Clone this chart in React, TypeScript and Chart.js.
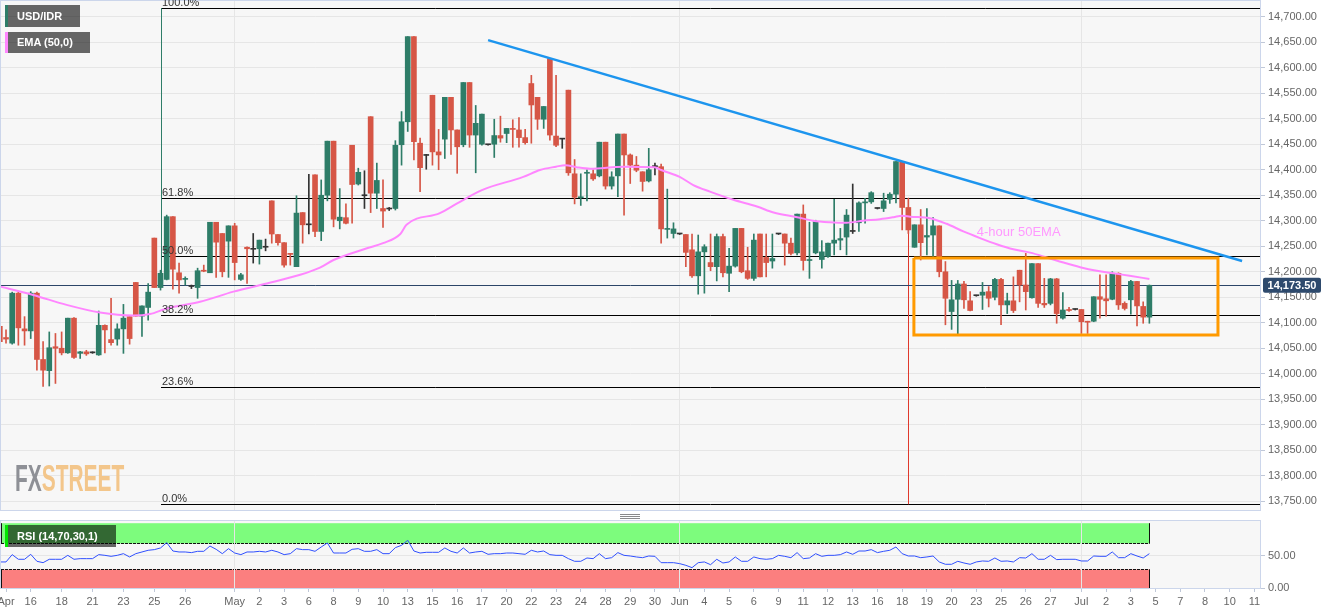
import React, { useEffect, useRef } from 'react';
import { Chart, registerables } from 'chart.js';

Chart.register(...registerables);

const FONT = "'Liberation Sans', Arial, Helvetica, sans-serif";

// candle index of the first entry (the candle cut by the left edge)
const FIRST_INDEX = -1;

const opens = [
  14093,
  14071, 14060, 14158, 14088, 14084, 14158, 14028, 14006, 14053, 14050,
  14041, 14109, 14040, 14043, 14041, 14037, 14095, 14067, 14068, 14088,
  14112, 14179, 14113, 14130, 14266, 14169, 14185, 14308, 14198, 14185,
  14171, 14169, 14203, 14198, 14297, 14275, 14260, 14290, 14185, 14248,
  14244, 14245, 14248, 14339, 14273, 14257, 14236, 14210, 14316, 14292,
  14390, 14279, 14350, 14456, 14300, 14306, 14448, 14372, 14349, 14504,
  14354, 14324, 14323, 14324, 14449, 14494, 14661, 14452, 14428, 14546,
  14435, 14460, 14542, 14478, 14449, 14571, 14468, 14450, 14449, 14450,
  14467, 14471, 14481, 14478, 14463, 14569, 14542, 14499, 14618, 14466,
  14460, 14556, 14392, 14345, 14393, 14392, 14388, 14454, 14368, 14388,
  14470, 14429, 14409, 14396, 14378, 14406, 14406, 14283, 14275, 14274,
  14273, 14243, 14192, 14239, 14218, 14210, 14269, 14197, 14211, 14285,
  14202, 14187, 14274, 14228, 14221, 14274, 14274, 14256, 14237, 14313,
  14222, 14237, 14224, 14230, 14256, 14262, 14268, 14279, 14296, 14335,
  14337, 14324, 14324, 14342, 14352, 14416, 14326, 14248, 14292, 14268,
  14272, 14290, 14200, 14122, 14146, 14176, 14143, 14153, 14154, 14161,
  14150, 14185, 14135, 14143, 14203, 14174, 14149, 14216, 14138, 14138,
  14186, 14109, 14126, 14126, 14126, 14103, 14103, 14151, 14147, 14146,
  14197, 14138, 14145, 14181, 14132, 14111,
];

const highs = [
  14105,
  14086, 14160, 14160, 14112, 14161, 14160, 14063, 14082, 14079, 14082,
  14109, 14110, 14044, 14046, 14043, 14123, 14096, 14148, 14098, 14136,
  14112, 14179, 14133, 14177, 14266, 14203, 14311, 14308, 14217, 14190,
  14174, 14207, 14213, 14297, 14297, 14275, 14290, 14295, 14197, 14249,
  14275, 14262, 14264, 14339, 14273, 14257, 14236, 14349, 14316, 14391,
  14390, 14380, 14456, 14456, 14363, 14333, 14448, 14403, 14398, 14504,
  14413, 14380, 14326, 14457, 14514, 14661, 14661, 14462, 14430, 14546,
  14479, 14542, 14542, 14478, 14571, 14571, 14526, 14509, 14450, 14499,
  14505, 14481, 14498, 14502, 14479, 14585, 14542, 14524, 14618, 14585,
  14460, 14556, 14420, 14392, 14400, 14400, 14454, 14454, 14396, 14470,
  14470, 14431, 14426, 14396, 14442, 14413, 14411, 14362, 14296, 14275,
  14273, 14274, 14272, 14253, 14274, 14274, 14274, 14246, 14285, 14285,
  14248, 14274, 14274, 14274, 14274, 14275, 14274, 14266, 14313, 14331,
  14297, 14301, 14261, 14256, 14342, 14285, 14322, 14372, 14337, 14344,
  14357, 14325, 14354, 14355, 14416, 14416, 14344, 14292, 14322, 14324,
  14306, 14290, 14220, 14183, 14183, 14181, 14161, 14154, 14179, 14171,
  14187, 14187, 14158, 14190, 14203, 14236, 14216, 14216, 14187, 14187,
  14187, 14159, 14130, 14127, 14126, 14103, 14151, 14194, 14194, 14200,
  14198, 14141, 14183, 14181, 14141, 14174,
];

const lows = [
  14055,
  14060, 14058, 14056, 14056, 14069, 14007, 13975, 13976, 13981, 14037,
  14040, 14030, 14030, 14036, 14040, 14036, 14041, 14056, 14056, 14040,
  14058, 14113, 14073, 14105, 14169, 14164, 14184, 14166, 14158, 14174,
  14167, 14148, 14200, 14198, 14189, 14190, 14189, 14184, 14183, 14177,
  14217, 14215, 14241, 14256, 14252, 14209, 14213, 14210, 14256, 14274,
  14269, 14261, 14339, 14288, 14284, 14294, 14295, 14370, 14324, 14316,
  14324, 14287, 14320, 14321, 14409, 14475, 14419, 14357, 14401, 14409,
  14400, 14422, 14430, 14393, 14445, 14444, 14394, 14448, 14448, 14424,
  14454, 14453, 14444, 14444, 14450, 14452, 14479, 14481, 14458, 14445,
  14442, 14389, 14333, 14330, 14339, 14379, 14386, 14362, 14362, 14347,
  14311, 14373, 14396, 14358, 14376, 14390, 14256, 14266, 14266, 14273,
  14210, 14189, 14156, 14158, 14202, 14182, 14190, 14161, 14209, 14198,
  14185, 14183, 14190, 14190, 14207, 14273, 14213, 14233, 14233, 14203,
  14187, 14235, 14207, 14228, 14233, 14243, 14233, 14275, 14279, 14295,
  14334, 14323, 14318, 14334, 14335, 14282, 14275, 14248, 14223, 14233,
  14230, 14190, 14096, 14087, 14078, 14128, 14123, 14152, 14126, 14131,
  14145, 14096, 14118, 14120, 14141, 14125, 14148, 14130, 14130, 14135,
  14099, 14107, 14122, 14125, 14079, 14079, 14102, 14109, 14113, 14145,
  14126, 14125, 14117, 14094, 14099, 14099,
];

const closes = [
  14063,
  14068, 14158, 14090, 14084, 14158, 14028, 14007, 14051, 14050, 14041,
  14109, 14032, 14043, 14039, 14041, 14095, 14086, 14061, 14088, 14109,
  14069, 14113, 14133, 14160, 14169, 14197, 14308, 14205, 14184, 14187,
  14171, 14202, 14201, 14297, 14258, 14200, 14290, 14218, 14194, 14245,
  14244, 14262, 14248, 14274, 14257, 14213, 14234, 14315, 14292, 14292,
  14279, 14350, 14456, 14303, 14307, 14295, 14371, 14395, 14349, 14354,
  14379, 14319, 14323, 14448, 14494, 14661, 14455, 14404, 14428, 14435,
  14429, 14542, 14478, 14445, 14571, 14468, 14491, 14509, 14449, 14467,
  14462, 14481, 14479, 14463, 14453, 14527, 14499, 14524, 14468, 14448,
  14460, 14394, 14346, 14347, 14395, 14382, 14454, 14368, 14386, 14470,
  14429, 14409, 14399, 14377, 14400, 14406, 14284, 14285, 14284, 14274,
  14238, 14192, 14239, 14249, 14210, 14269, 14198, 14211, 14285, 14200,
  14187, 14262, 14190, 14218, 14226, 14274, 14256, 14236, 14313, 14222,
  14223, 14298, 14239, 14256, 14262, 14265, 14311, 14279, 14335, 14337,
  14355, 14324, 14339, 14352, 14416, 14326, 14282, 14292, 14257, 14271,
  14290, 14200, 14148, 14145, 14176, 14145, 14124, 14153, 14160, 14148,
  14185, 14135, 14143, 14124, 14174, 14161, 14216, 14138, 14135, 14186,
  14118, 14125, 14124, 14126, 14102, 14101, 14151, 14146, 14143, 14197,
  14135, 14128, 14181, 14133, 14111, 14173.5,
];

// 50-period EMA (candle index, value)
const emaIndex = [
  -1, 4.4, 9.8, 15.2, 20.6, 23.3, 26, 31.4, 36.8, 42.2,
  47.6, 50.8, 53, 58.4, 61, 63.8, 64.8, 70.2, 73, 77,
  83.7, 86.4, 89, 90.5, 92.3, 94.5, 99.9, 105, 106, 109,
  111.2, 113.9, 117.7, 121.5, 124.2, 128, 130.6, 133.3, 136, 138.7,
  141.4, 143.6, 145, 146.3, 149.5, 152.2, 154.9, 157.6, 160.3, 163,
  165.7, 168.4, 171.1, 173.8, 176.5, 179.2, 181.8, 185,
];
const emaValues = [
  14171, 14154.5, 14135, 14120, 14114, 14117, 14128, 14141, 14161, 14177,
  14194, 14208, 14223, 14246, 14256, 14274, 14292, 14315, 14334, 14360,
  14386, 14399.5, 14406, 14409, 14405, 14402, 14406, 14405, 14399.5, 14386,
  14370, 14357, 14341, 14328, 14316, 14307, 14300, 14297, 14296, 14300,
  14303, 14307, 14310, 14308, 14305, 14294, 14279, 14266, 14254, 14244,
  14237.5, 14228, 14218, 14209, 14202, 14197, 14192, 14186,
];

// RSI(14), one value per candle
const rsiValues = [
  40.2,
  40.2, 51.5, 44.3, 44.3, 52, 41.2, 39.1, 44.3, 44.3, 44.3,
  50.4, 44.3, 45.3, 45.3, 45.3, 51.5, 50.4, 48.9, 50.4, 53,
  47.9, 53, 55.6, 58.2, 59.2, 61.8, 70, 57.1, 55.6, 55.6,
  54.6, 56.6, 56.6, 64.8, 59.7, 53, 60.7, 54, 51.5, 55.6,
  55.6, 56.6, 55.6, 58.2, 55.6, 51.5, 53, 60.7, 59.2, 59.2,
  56.6, 63.3, 69.5, 54, 54, 54, 59.7, 60.7, 56.6, 56.6,
  59.2, 53, 53, 62.3, 65.9, 73.6, 57.1, 54, 55.1, 55.1,
  55.1, 61.8, 56.6, 54, 61.8, 54, 55.6, 56.6, 52, 53,
  53, 54, 54, 53, 52, 58.2, 55.6, 57.1, 51.5, 50.4,
  50.4, 45.3, 41.2, 41.2, 46.3, 45.3, 53, 45.3, 46.8, 54.6,
  50.4, 49.4, 47.9, 46.8, 49.4, 48.9, 39.1, 39.1, 39.1, 37.6,
  35, 31.4, 39.1, 40.2, 36, 44.3, 38.6, 40.2, 47.9, 41.2,
  41.2, 47.9, 45.3, 44.3, 45.3, 50.4, 48.9, 46.8, 54.6, 45.3,
  46.3, 53, 48.9, 50.4, 50.4, 51.5, 55.6, 52, 57.1, 57.1,
  59.2, 54.6, 56.6, 58.2, 63.3, 53, 49.4, 49.4, 46.8, 47.9,
  49.4, 40.2, 36.6, 36.6, 41.2, 38.6, 36.6, 40.2, 41.7, 41.2,
  46.3, 41.2, 41.7, 40.2, 46.8, 46.3, 53, 44.3, 44.3, 50.4,
  43.8, 44.3, 44.3, 44.3, 41.7, 41.7, 49.4, 48.9, 48.9, 55.6,
  46.8, 46.8, 53, 49.4, 46.3, 53,
];

// x-axis ticks (candle index -> label)
const tickIndex = [
  0, 4, 9, 14, 19, 24, 29,
  37, 41, 45, 49, 53, 57, 61, 65, 69, 73, 77, 81, 85, 89, 93, 97, 101, 105,
  109, 113, 117, 121, 125, 129, 133, 137, 141, 145, 149, 153, 157, 161, 165, 169,
  174, 178, 182, 186, 190, 194, 198, 202,
];
const tickLabels = [
  'Apr', '16', '18', '21', '23', '25', '26',
  'May', '2', '3', '6', '8', '9', '10', '13', '15', '16', '17', '20', '22', '23', '24', '28', '29', '30',
  'Jun', '4', '5', '6', '9', '11', '12', '13', '16', '18', '19', '20', '23', '25', '26', '27',
  'Jul', '2', '3', '5', '7', '8', '10', '11',
];
const monthIndex = [37, 109, 174];

const priceTicks = [
  13750, 13800, 13850, 13900, 13950, 14000, 14050, 14100, 14150, 14200,
  14250, 14300, 14350, 14400, 14450, 14500, 14550, 14600, 14650, 14700,
];
const rsiTicks = [0, 50];

// Fibonacci retracement drawing
const fibLabels = ['100.0%', '61.8%', '50.0%', '38.2%', '23.6%', '0.0%'];
const fibValues = [14717, 14345, 14230, 14116, 13974, 13744];
const fibStartIndex = 25;
const fibHighLine = [14717, 14180]; // vertical at fibStartIndex
const fibLowIndex = 146;
const fibLowLine = [14345, 13744];

// trend line and range box
const trendIndex = [78, 200];
const trendValues = [14654, 14221];
const boxIndex = [146.9, 196.1, 196.1, 146.9, 146.9];
const boxValues = [14227, 14227, 14076, 14076, 14227];

const lastPrice = 14173.5;
const emaNoteIndex = 157.07;
const emaNoteValue = 14270;

const X_MIN = -0.81;
const X_MAX = 202.9;
const Y_MIN = 13732.9;
const Y_MAX = 14730.8;
const RSI_MAX = 103.4;
const RSI_LAST_INDEX = 185;

const UP = '#2e7d68';
const DOWN = '#d65646';
const DOJI = '#333333';

const fmtPrice = (v: number) =>
  v.toLocaleString('en-US', { minimumFractionDigits: 2, maximumFractionDigits: 2 });

const noPadding = (s: any) => {
  s.paddingTop = 0;
  s.paddingBottom = 0;
  s.paddingLeft = 0;
  s.paddingRight = 0;
};

export default function App() {
  const mainRef = useRef<HTMLCanvasElement>(null);
  const rsiRef = useRef<HTMLCanvasElement>(null);

  useEffect(() => {
    document.body.style.margin = '0';
    Chart.defaults.font.family = FONT;

    const xs = opens.map((_, i) => FIRST_INDEX + i);
    const colors = opens.map((o, i) => (closes[i] > o ? UP : closes[i] < o ? DOWN : DOJI));
    const wickData = xs.map((x, i) => ({
      x,
      y: [Math.min(lows[i], opens[i], closes[i]), Math.max(highs[i], opens[i], closes[i])],
    }));
    const bodyData = xs.map((x, i) => ({ x, y: [opens[i], closes[i]] }));

    const mainDecor = {
      id: 'mainDecor',
      beforeDraw(chart: any) {
        const { ctx, chartArea: a } = chart;
        ctx.save();
        ctx.fillStyle = '#f7f7f7';
        ctx.fillRect(a.left, a.top, a.right - a.left, a.bottom - a.top);
        ctx.restore();
      },
      beforeDatasetsDraw(chart: any) {
        const { ctx, chartArea: a, scales } = chart;
        const x = scales.x;
        const y = scales.y;
        ctx.save();
        ctx.beginPath();
        ctx.rect(a.left, a.top, a.right - a.left, a.bottom - a.top);
        ctx.clip();
        const x0 = Math.round(x.getPixelForValue(fibStartIndex));
        ctx.strokeStyle = '#000';
        ctx.lineWidth = 1;
        fibValues.forEach((v) => {
          const py = Math.round(y.getPixelForValue(v)) + 0.5;
          ctx.beginPath();
          ctx.moveTo(x0, py);
          ctx.lineTo(a.right, py);
          ctx.stroke();
        });
        // vertical anchors
        ctx.strokeStyle = UP;
        ctx.beginPath();
        ctx.moveTo(x0 + 0.5, y.getPixelForValue(fibHighLine[0]));
        ctx.lineTo(x0 + 0.5, y.getPixelForValue(fibHighLine[1]));
        ctx.stroke();
        const xl = Math.round(x.getPixelForValue(fibLowIndex)) + 0.5;
        ctx.strokeStyle = '#e0392c';
        ctx.beginPath();
        ctx.moveTo(xl, y.getPixelForValue(fibLowLine[0]));
        ctx.lineTo(xl, y.getPixelForValue(fibLowLine[1]));
        ctx.stroke();
        // last price line
        const pp = Math.round(y.getPixelForValue(lastPrice)) + 0.5;
        ctx.strokeStyle = '#2c4668';
        ctx.beginPath();
        ctx.moveTo(a.left, pp);
        ctx.lineTo(a.right, pp);
        ctx.stroke();
        ctx.restore();
      },
      afterDraw(chart: any) {
        const { ctx, chartArea: a, scales } = chart;
        const x = scales.x;
        const y = scales.y;
        ctx.save();
        // plot border
        ctx.strokeStyle = '#ccd6eb';
        ctx.lineWidth = 1;
        ctx.strokeRect(a.left - 0.5, a.top - 0.5, a.right - a.left + 1, a.bottom - a.top + 1);
        // fib labels
        ctx.fillStyle = '#333';
        ctx.font = `11px ${FONT}`;
        ctx.textAlign = 'left';
        ctx.textBaseline = 'alphabetic';
        const x0 = Math.round(x.getPixelForValue(fibStartIndex)) + 1;
        fibValues.forEach((v, i) => {
          ctx.fillText(fibLabels[i], x0, Math.round(y.getPixelForValue(v)) - 2);
        });
        // EMA note
        ctx.fillStyle = '#ff99ff';
        ctx.font = `13px ${FONT}`;
        ctx.fillText('4-hour 50EMA', x.getPixelForValue(emaNoteIndex), y.getPixelForValue(emaNoteValue));
        // last price tag
        const py = y.getPixelForValue(lastPrice);
        const bx = a.right + 3;
        const bw = 58;
        const bh = 15;
        const by = py - 7.5;
        const r = 2;
        ctx.fillStyle = '#2e4a6d';
        ctx.beginPath();
        ctx.moveTo(bx + r, by);
        ctx.lineTo(bx + bw - r, by);
        ctx.quadraticCurveTo(bx + bw, by, bx + bw, by + r);
        ctx.lineTo(bx + bw, by + bh - r);
        ctx.quadraticCurveTo(bx + bw, by + bh, bx + bw - r, by + bh);
        ctx.lineTo(bx + r, by + bh);
        ctx.quadraticCurveTo(bx, by + bh, bx, by + bh - r);
        ctx.lineTo(bx, by + r);
        ctx.quadraticCurveTo(bx, by, bx + r, by);
        ctx.fill();
        ctx.fillStyle = '#ffffff';
        ctx.font = `bold 11px ${FONT}`;
        ctx.textAlign = 'center';
        ctx.textBaseline = 'middle';
        ctx.fillText(fmtPrice(lastPrice), bx + bw / 2, py + 0.5);
        ctx.restore();
      },
    };

    const main = new Chart(mainRef.current as HTMLCanvasElement, {
      type: 'bar',
      data: {
        datasets: [
          {
            type: 'bar',
            label: 'wick',
            data: wickData as any,
            backgroundColor: colors,
            barThickness: 1,
            grouped: false,
            order: 5,
          } as any,
          {
            type: 'bar',
            label: 'body',
            data: bodyData as any,
            backgroundColor: colors,
            borderWidth: 0,
            barThickness: 5,
            minBarLength: 1,
            grouped: false,
            order: 4,
          } as any,
          {
            type: 'line',
            label: 'EMA (50,0)',
            data: emaIndex.map((k, i) => ({ x: k, y: emaValues[i] })),
            borderColor: '#ff86ff',
            borderWidth: 2,
            pointRadius: 0,
            cubicInterpolationMode: 'monotone',
            order: 3,
          } as any,
          {
            type: 'line',
            label: 'trend',
            data: trendIndex.map((k, i) => ({ x: k, y: trendValues[i] })),
            borderColor: '#1d95ee',
            borderWidth: 2.5,
            pointRadius: 0,
            order: 2,
          } as any,
          {
            type: 'line',
            label: 'range',
            data: boxIndex.map((k, i) => ({ x: k, y: boxValues[i] })),
            borderColor: '#ff9a00',
            borderWidth: 3,
            pointRadius: 0,
            order: 1,
          } as any,
        ],
      },
      options: {
        animation: false,
        responsive: false,
        maintainAspectRatio: false,
        events: [],
        layout: { padding: { left: 1, top: 1, right: 0, bottom: 2 } },
        plugins: { legend: { display: false }, tooltip: { enabled: false } },
        scales: {
          x: {
            type: 'linear',
            offset: false,
            min: X_MIN,
            max: X_MAX,
            afterBuildTicks: (s: any) => {
              s.ticks = monthIndex.map((v) => ({ value: v }));
            },
            afterFit: (s: any) => {
              s.height = 0;
              noPadding(s);
            },
            ticks: { display: false },
            grid: { color: '#e6e6e6', drawTicks: false, offset: false },
            border: { display: false },
          },
          y: {
            type: 'linear',
            position: 'right',
            min: Y_MIN,
            max: Y_MAX,
            afterBuildTicks: (s: any) => {
              s.ticks = priceTicks.map((v) => ({ value: v }));
            },
            afterFit: (s: any) => {
              s.width = 71;
              noPadding(s);
            },
            ticks: {
              callback: (v: any) => fmtPrice(Number(v)),
              font: { size: 11, family: FONT },
              color: '#666666',
              padding: 3,
            },
            grid: { color: '#e6e6e6', tickLength: 5, tickColor: '#c0c8d8' },
            border: { display: false },
          },
        },
      } as any,
      plugins: [mainDecor],
    });

    const rsiDecor = {
      id: 'rsiDecor',
      beforeDraw(chart: any) {
        const { ctx, chartArea: a, scales } = chart;
        const x = scales.x;
        const y = scales.y;
        ctx.save();
        ctx.fillStyle = '#f7f7f7';
        ctx.fillRect(a.left, a.top, a.right - a.left, a.bottom - a.top);
        const xr = Math.round(x.getPixelForValue(RSI_LAST_INDEX)) + 0.5;
        const xl = a.left + 0.5;
        const y100 = y.getPixelForValue(100);
        const y70 = Math.round(y.getPixelForValue(70)) + 0.5;
        const y30 = Math.round(y.getPixelForValue(30)) + 0.5;
        const y0 = y.getPixelForValue(0);
        ctx.fillStyle = '#7dfc7d';
        ctx.fillRect(a.left, y100, xr - a.left, y70 - y100);
        ctx.fillStyle = '#fb7f7f';
        ctx.fillRect(a.left, y30, xr - a.left, y0 - y30);
        ctx.strokeStyle = '#111';
        ctx.lineWidth = 1;
        ctx.beginPath();
        ctx.moveTo(xl, y100);
        ctx.lineTo(xl, y70);
        ctx.moveTo(xr, y100);
        ctx.lineTo(xr, y70);
        ctx.moveTo(xl, y30);
        ctx.lineTo(xl, y0);
        ctx.moveTo(xr, y30);
        ctx.lineTo(xr, y0);
        ctx.stroke();
        ctx.setLineDash([3, 1]);
        ctx.beginPath();
        ctx.moveTo(a.left, y70);
        ctx.lineTo(xr, y70);
        ctx.moveTo(a.left, y30);
        ctx.lineTo(xr, y30);
        ctx.stroke();
        ctx.restore();
      },
      afterDraw(chart: any) {
        const { ctx, chartArea: a } = chart;
        ctx.save();
        ctx.strokeStyle = '#ccd6eb';
        ctx.lineWidth = 1;
        ctx.strokeRect(a.left - 0.5, a.top - 0.5, a.right - a.left + 1, a.bottom - a.top + 1);
        ctx.restore();
      },
    };

    const rsi = new Chart(rsiRef.current as HTMLCanvasElement, {
      type: 'line',
      data: {
        datasets: [
          {
            label: 'RSI (14,70,30,1)',
            data: xs.map((k, i) => ({ x: k, y: rsiValues[i] })),
            borderColor: '#3050ff',
            borderWidth: 1,
            pointRadius: 0,
            tension: 0,
          },
        ],
      },
      options: {
        animation: false,
        responsive: false,
        maintainAspectRatio: false,
        events: [],
        layout: { padding: { left: 1, top: 9, right: 0, bottom: 0 } },
        plugins: { legend: { display: false }, tooltip: { enabled: false } },
        scales: {
          x: {
            type: 'linear',
            offset: false,
            min: X_MIN,
            max: X_MAX,
            afterBuildTicks: (s: any) => {
              s.ticks = tickIndex.map((v) => ({ value: v }));
            },
            afterFit: (s: any) => {
              s.height = 27;
              noPadding(s);
            },
            ticks: {
              autoSkip: false,
              maxRotation: 0,
              minRotation: 0,
              padding: 3,
              font: { size: 11, family: FONT },
              color: '#666666',
              callback: (_v: any, i: number) => tickLabels[i] ?? '',
            },
            grid: {
              color: (c: any) =>
                c.tick && monthIndex.includes(c.tick.value) ? '#e6e6e6' : 'rgba(0,0,0,0)',
              tickColor: '#c0c8d8',
              tickLength: 4,
            },
            border: { display: false },
          },
          y: {
            type: 'linear',
            position: 'right',
            min: 0,
            max: RSI_MAX,
            afterBuildTicks: (s: any) => {
              s.ticks = rsiTicks.map((v) => ({ value: v }));
            },
            afterFit: (s: any) => {
              s.width = 71;
              noPadding(s);
            },
            ticks: {
              callback: (v: any) => Number(v).toFixed(2),
              font: { size: 11, family: FONT },
              color: '#666666',
              padding: 3,
            },
            grid: { color: '#e6e6e6', tickLength: 5, tickColor: '#c0c8d8' },
            border: { display: false },
          },
        },
      } as any,
      plugins: [rsiDecor],
    });

    return () => {
      main.destroy();
      rsi.destroy();
    };
  }, []);

  const boxStyle = (left: number, top: number, w: number, h: number): React.CSSProperties => ({
    position: 'absolute',
    left,
    top,
    width: w,
    height: h,
    background: 'rgba(0,0,0,0.59)',
    color: '#ffffff',
    font: `bold 11px ${FONT}`,
    lineHeight: `${h}px`,
    paddingLeft: 12,
    boxSizing: 'border-box',
    whiteSpace: 'nowrap',
  });
  const stripe = (color: string, h: number): React.CSSProperties => ({
    position: 'absolute',
    left: 0,
    top: 0,
    width: 3,
    height: h,
    background: color,
  });

  return (
    <div style={{ position: 'relative', width: 1331, height: 615, background: '#ffffff', overflow: 'hidden' }}>
      <canvas ref={mainRef} width={1331} height={512} style={{ position: 'absolute', left: 0, top: 0 }} />
      <canvas ref={rsiRef} width={1331} height={103} style={{ position: 'absolute', left: 0, top: 512 }} />
      <div style={boxStyle(5, 5, 75, 22)}>
        <div style={stripe(UP, 22)} />
        USD/IDR
      </div>
      <div style={boxStyle(5, 32, 85, 21)}>
        <div style={stripe('#ff86ff', 21)} />
        EMA (50,0)
      </div>
      <div style={boxStyle(5, 525, 111, 22)}>
        <div style={stripe('#00e600', 22)} />
        RSI (14,70,30,1)
      </div>
      <div
        style={{
          position: 'absolute',
          left: 15,
          top: 460,
          fontFamily: "'Liberation Sans Narrow', 'Liberation Sans', Arial, sans-serif",
          fontWeight: 'bold',
          fontSize: 37,
          lineHeight: '37px',
          transform: 'scaleX(0.565)',
          transformOrigin: 'left top',
          whiteSpace: 'nowrap',
        }}
      >
        <span style={{ color: '#8e9096' }}>FX</span>
        <span style={{ color: '#f3c68b' }}>STREET</span>
      </div>
      {[514, 516, 518].map((t) => (
        <div key={t} style={{ position: 'absolute', left: 620, top: t, width: 20, height: 1, background: '#8a8a8a' }} />
      ))}
    </div>
  );
}
